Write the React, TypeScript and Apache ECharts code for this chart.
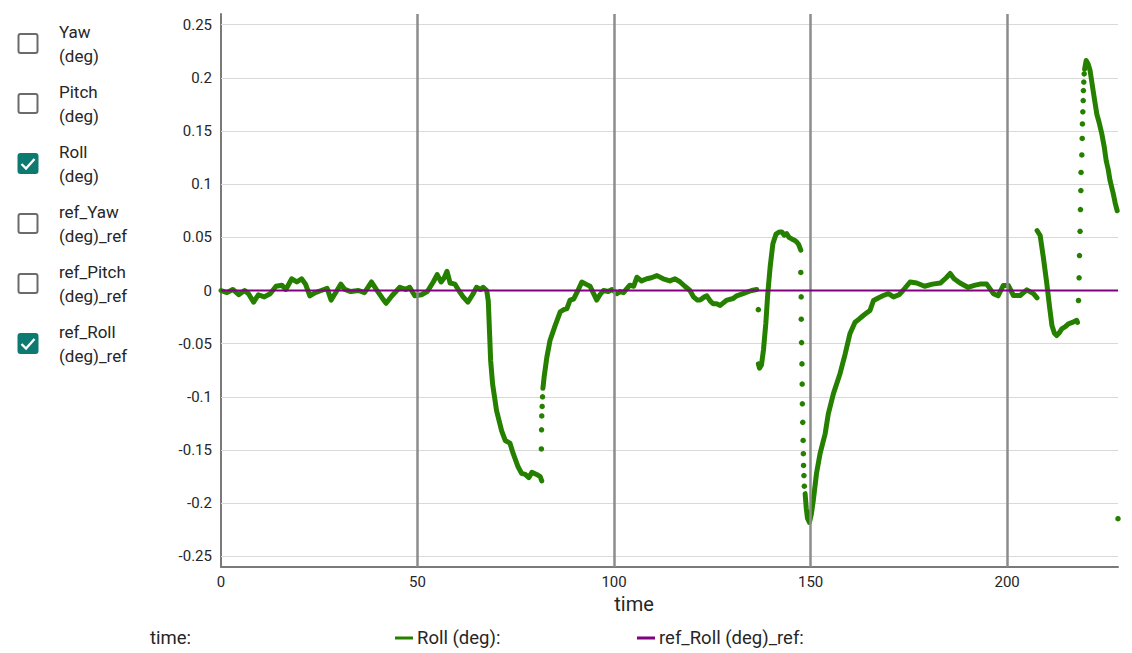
import React, { useEffect, useRef } from "react";
import * as echarts from "echarts";

// ---- data (time in s, roll in deg) ----
const rollSegA: [number, number][] = [
  [0, 0], [1.5, -0.002], [3, 0.001], [4.5, -0.004], [6, 0], [7, -0.003], [8.3, -0.011], [9.5, -0.004],
  [11, -0.006], [12.5, -0.003], [14, 0.004], [15.5, 0.005], [16.5, 0.001], [18, 0.011], [19.3, 0.008],
  [20.5, 0.011], [21.5, 0.006], [22.6, -0.005], [24, -0.002], [25.5, 0.0], [27, 0.002], [28, -0.009],
  [29, -0.003], [30.5, 0.006], [31.5, 0.001], [33, -0.001], [35, 0.0], [36.5, -0.002], [38.3, 0.008],
  [39.5, 0.001], [41, -0.007], [42, -0.012], [43.5, -0.005], [45.5, 0.003], [47, 0.001], [48, 0.003],
  [49.3, -0.005], [51, -0.004], [52.5, -0.001], [54, 0.008], [55, 0.015], [56, 0.008], [56.8, 0.012],
  [57.5, 0.018], [58.3, 0.007], [59.5, 0.006], [60.5, 0.0], [61.6, -0.006], [62.8, -0.011], [64, -0.004],
  [65, 0.003], [66, 0.001], [66.7, 0.003], [67.6, 0.0], [68.0, -0.01], [68.3, -0.038], [68.6, -0.066],
  [69.1, -0.088], [70.1, -0.113], [71.4, -0.132], [72.3, -0.141], [73.5, -0.1435], [74.3, -0.153],
  [75.6, -0.166], [76.5, -0.172], [77.4, -0.173], [78.3, -0.176], [79.1, -0.171], [80.3, -0.173],
  [81.2, -0.175], [81.6, -0.179],
];
const rollDots1: [number, number][] = [
  [81.5, -0.149], [81.55, -0.131], [81.6, -0.118], [81.7, -0.109], [81.8, -0.1],
];
const rollSegB: [number, number][] = [
  [81.9, -0.092], [82.2, -0.0815], [82.9, -0.0627], [83.7, -0.047], [85, -0.033], [86.3, -0.02],
  [87.2, -0.018], [88, -0.017], [88.8, -0.009], [89.7, -0.008], [90.8, 0.0], [91.8, 0.008], [92.8, 0.006],
  [93.9, 0.004], [94.8, -0.003], [95.6, -0.009], [96.4, -0.004], [97.3, 0.0], [98.5, -0.001], [99.5, 0.001],
  [100.7, -0.003], [101.5, -0.001], [102.4, -0.002], [104, 0.005], [105, 0.004], [105.8, 0.0125],
  [107, 0.009], [108.3, 0.011], [109.5, 0.012], [110.9, 0.014], [112.5, 0.011], [114.2, 0.009],
  [115.5, 0.011], [116.8, 0.008], [118, 0.004], [119.3, 0.0], [120.2, -0.006], [121.2, -0.009],
  [121.9, -0.009], [123, -0.006], [123.6, -0.005], [124.5, -0.01], [125.2, -0.0125], [126.1, -0.0125],
  [127, -0.014], [128.7, -0.009], [130.3, -0.0075], [131.2, -0.005], [132.8, -0.003], [133.8, -0.0015],
  [135, 0.0], [136.3, 0.001],
];
const rollDots2: [number, number][] = [[136.7, -0.018]];
const rollSegC: [number, number][] = [
  [136.7, -0.069], [137.0, -0.073], [137.5, -0.07], [138, -0.056], [138.6, -0.031], [139.1, -0.003],
  [139.7, 0.022], [140.4, 0.044], [141.2, 0.053], [142, 0.055], [142.7, 0.055], [143.3, 0.052],
  [143.9, 0.0535], [144.5, 0.05], [145.2, 0.0485], [146, 0.047], [146.5, 0.0455], [147, 0.043], [147.5, 0.038],
];
const rollDots3: [number, number][] = [
  [147.5, 0.017], [147.6, -0.006], [147.62, -0.027], [147.7, -0.049], [147.8, -0.069], [147.85, -0.088],
  [147.9, -0.1065], [148.0, -0.124], [148.1, -0.141], [148.15, -0.1535], [148.2, -0.1645], [148.3, -0.174],
  [148.4, -0.184],
];
const rollSegD: [number, number][] = [
  [148.6, -0.191], [148.9, -0.205], [149.2, -0.214], [149.7, -0.218], [150.2, -0.21], [150.7, -0.197],
  [151.5, -0.172], [152.4, -0.1535], [153.7, -0.1347], [154.5, -0.116], [155.8, -0.097], [157.5, -0.078],
  [158.8, -0.0595], [160, -0.0407], [161.3, -0.0298], [162.3, -0.027], [163.4, -0.0235], [164.3, -0.021],
  [165.1, -0.0188], [166, -0.0094], [167.2, -0.007], [168.5, -0.0047], [169.8, -0.003], [171.1, -0.006],
  [172.5, -0.004], [173.5, 0.0], [175.3, 0.008], [177, 0.007], [179, 0.004], [181, 0.006], [183, 0.007],
  [184.5, 0.012], [185.5, 0.016], [186.5, 0.011], [188, 0.007], [190, 0.003], [191.9, 0.005], [193.1, 0.006],
  [194.8, 0.006], [196.5, -0.003], [197.7, -0.005], [199, 0.0047], [200.3, 0.0047], [201.6, -0.0047],
  [203.3, -0.0047], [205, 0.0006], [206.7, -0.003], [207.6, -0.007],
];
const rollSegE: [number, number][] = [
  [207.6, 0.0564], [208.4, 0.0517], [209.2, 0.0313], [210.1, 0.0063], [210.8, -0.0157], [211.4, -0.033],
  [212, -0.04], [212.6, -0.0423], [213.2, -0.04], [213.9, -0.036], [214.8, -0.034], [215.6, -0.0313],
  [216.6, -0.03], [217.7, -0.028], [217.9, -0.03],
];
const rollDots4: [number, number][] = [
  [218.15, -0.0094], [218.3, 0.0119], [218.4, 0.0329], [218.55, 0.0557], [218.65, 0.0761], [218.75, 0.094],
  [218.8, 0.111], [219.0, 0.1275], [219.1, 0.143], [219.15, 0.1566], [219.25, 0.168], [219.35, 0.1786],
  [219.4, 0.188], [219.5, 0.196], [219.6, 0.2037], [228.2, -0.2146],
];
const rollSegF: [number, number][] = [
  [219.7, 0.208], [220.1, 0.2162], [220.6, 0.213], [221.1, 0.2068], [221.5, 0.197], [222, 0.1849],
  [222.8, 0.166], [223.4, 0.158], [224.1, 0.147], [224.7, 0.135], [225.2, 0.122], [225.7, 0.114],
  [226.2, 0.103], [227, 0.091], [227.5, 0.082], [228.0, 0.075],
];
const refRoll: [number, number][] = [[0, 0], [228.2, 0]];

const yTicks = [-0.25, -0.2, -0.15, -0.1, -0.05, 0, 0.05, 0.1, 0.15, 0.2, 0.25];
const xTicks = [0, 50, 100, 150, 200];
const xGridLines = [50, 100, 150, 200];

const checkLabels = [
  ["Yaw", "(deg)"],
  ["Pitch", "(deg)"],
  ["Roll", "(deg)"],
  ["ref_Yaw", "(deg)_ref"],
  ["ref_Pitch", "(deg)_ref"],
  ["ref_Roll", "(deg)_ref"],
];
const checkStates = [false, false, true, false, false, true];

const GREEN = "#268000";
const PURPLE = "#800080";
const TEAL = "#0d7a72";
const FONT = "Roboto";
const TXT = "#262626";

export default function App() {
  const ref = useRef<HTMLDivElement>(null);
  useEffect(() => {
    if (!ref.current) return;
    const chart = echarts.init(ref.current, undefined, { renderer: "svg" });

    const segs = [rollSegA, rollSegB, rollSegC, rollSegD, rollSegE, rollSegF];
    const dots = [rollDots1, rollDots2, rollDots3, rollDots4];

    const graphics: any[] = [];
    checkLabels.forEach((lbl, i) => {
      const cy = 43.5 + i * 60;
      const checked = checkStates[i];
      graphics.push({
        type: "rect",
        shape: { x: 18.5, y: cy - 9.5, width: 19, height: 19, r: 2 },
        style: checked
          ? { fill: TEAL, stroke: TEAL, lineWidth: 2 }
          : { fill: "#fff", stroke: "#6b6b6b", lineWidth: 2 },
      });
      if (checked) {
        graphics.push({
          type: "polyline",
          shape: { points: [[21.5, cy + 0.5], [26, cy + 5], [34.5, cy - 4.5]] },
          style: { stroke: "#fff", lineWidth: 2.4, fill: "none" },
        });
      }
      graphics.push({
        type: "text",
        x: 59,
        y: cy - 12,
        style: { text: lbl[0], font: `17px ${FONT}`, fill: TXT, verticalAlign: "middle" },
      });
      graphics.push({
        type: "text",
        x: 59,
        y: cy + 12.5,
        style: { text: lbl[1], font: `17px ${FONT}`, fill: TXT, verticalAlign: "middle" },
      });
    });
    // x axis title
    graphics.push({
      type: "text", x: 634, y: 604,
      style: { text: "time", font: `20px ${FONT}`, fill: TXT, align: "center", verticalAlign: "middle" },
    });
    // bottom legend
    graphics.push({
      type: "text", x: 150, y: 638,
      style: { text: "time:", font: `18.5px ${FONT}`, fill: TXT, verticalAlign: "middle" },
    });
    graphics.push({
      type: "line", shape: { x1: 395, y1: 638, x2: 413, y2: 638 },
      style: { stroke: GREEN, lineWidth: 3 },
    });
    graphics.push({
      type: "text", x: 417, y: 638,
      style: { text: "Roll (deg):", font: `18.5px ${FONT}`, fill: TXT, verticalAlign: "middle" },
    });
    graphics.push({
      type: "line", shape: { x1: 637, y1: 638, x2: 655, y2: 638 },
      style: { stroke: PURPLE, lineWidth: 3 },
    });
    graphics.push({
      type: "text", x: 659, y: 638,
      style: { text: "ref_Roll (deg)_ref:", font: `18.5px ${FONT}`, fill: TXT, verticalAlign: "middle" },
    });

    const series: any[] = [];
    // horizontal grid lines (below data)
    series.push({
      type: "line",
      data: refRoll,
      silent: true,
      showSymbol: false,
      lineStyle: { opacity: 0 },
      z: 1,
      markLine: {
        z: 1,
        silent: true,
        symbol: ["none", "none"],
        label: { show: false },
        animation: false,
        data: yTicks.map((v) => ({ yAxis: v, lineStyle: { color: "#d9d9d9", width: 1, type: "solid" } })),
      },
    });
    segs.forEach((s) =>
      series.push({
        type: "line",
        name: "Roll (deg)",
        data: s,
        showSymbol: false,
        z: 3,
        lineStyle: { color: GREEN, width: 5, cap: "round", join: "round" },
      })
    );
    dots.forEach((d) =>
      series.push({
        type: "scatter",
        name: "Roll (deg)",
        data: d,
        symbolSize: 5.5,
        z: 3,
        itemStyle: { color: GREEN, opacity: 1 },
      })
    );
    // vertical grid lines (over data)
    series.push({
      type: "line",
      data: refRoll,
      silent: true,
      showSymbol: false,
      lineStyle: { opacity: 0 },
      z: 4,
      markLine: {
        z: 4,
        silent: true,
        symbol: ["none", "none"],
        label: { show: false },
        animation: false,
        data: xGridLines.map((v) => ({ xAxis: v, lineStyle: { color: "#8c8c8c", width: 2.5, type: "solid" } })),
      },
    });
    series.push({
      type: "line",
      name: "ref_Roll (deg)_ref",
      data: refRoll,
      showSymbol: false,
      z: 6,
      lineStyle: { color: PURPLE, width: 2 },
    });

    chart.setOption({
      animation: false,
      grid: { left: 221, right: 14, top: 14, bottom: 86, containLabel: false },
      xAxis: {
        type: "value",
        min: 0,
        max: 228.2,
        axisLine: { show: true, onZero: false, lineStyle: { color: "#7a7a7a", width: 2 } },
        axisTick: { show: false },
        splitLine: { show: false },
        axisLabel: {
          customValues: xTicks,
          fontSize: 15,
          color: TXT,
          fontFamily: FONT,
          margin: 7,
        },
      },
      yAxis: {
        type: "value",
        min: -0.26,
        max: 0.26,
        axisLine: { show: true, onZero: false, lineStyle: { color: "#7a7a7a", width: 2 } },
        axisTick: { show: false },
        splitLine: { show: false },
        axisLabel: {
          customValues: yTicks,
          fontSize: 15,
          color: TXT,
          fontFamily: FONT,
          margin: 9,
          formatter: (v: number) => String(+Number(v).toFixed(2)),
        },
      },
      graphic: graphics,
      series,
    });
    return () => chart.dispose();
  }, []);
  return <div ref={ref} style={{ width: 1132, height: 653, position: "absolute", left: 0, top: 0 }} />;
}
